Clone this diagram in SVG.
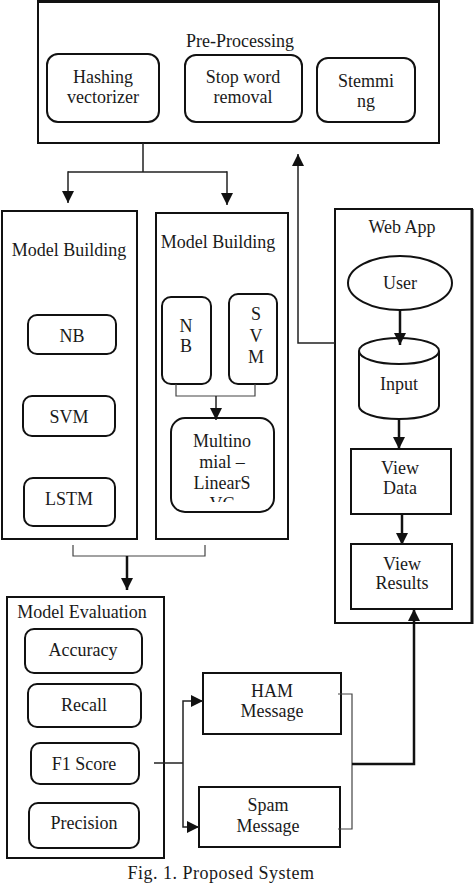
<svg xmlns="http://www.w3.org/2000/svg" width="474" height="884" viewBox="0 0 474 884">
<style>
  .box{fill:#fff;stroke:#111;stroke-width:2}
  .rbox{fill:#fff;stroke:#111;stroke-width:2}
  .t{font-family:'Liberation Serif','Times New Roman','DejaVu Serif',serif;font-size:18px;fill:#1a1a1a;text-anchor:middle}
  .c{fill:none;stroke:#222;stroke-width:1.5}
  .ct{fill:none;stroke:#444;stroke-width:1.2}
  .ck{fill:none;stroke:#111;stroke-width:2.5}
</style>
<defs>
  <marker id="ah" viewBox="0 0 10 10" refX="10" refY="5" markerWidth="12" markerHeight="12" markerUnits="userSpaceOnUse" orient="auto">
    <path d="M0,0 L10,5 L0,10 z" fill="#111"/>
  </marker>
  <clipPath id="mclip"><rect x="172" y="419" width="100" height="83"/></clipPath>
</defs>

<g id="preprocessing">
  <rect class="box" x="38" y="1" width="401" height="142"/>
  <line x1="38" y1="1.5" x2="439" y2="1.5" stroke="#111" stroke-width="3"/>
  <text class="t" x="240" y="47">Pre-Processing</text>
</g>
<g id="hashing">
  <rect class="rbox" x="47" y="54" width="112" height="68" rx="11"/>
  <text class="t" x="103" y="83">Hashing</text>
  <text class="t" x="103" y="103">vectorizer</text>
</g>
<g id="stopword">
  <rect class="rbox" x="185" y="55" width="117" height="67" rx="11"/>
  <text class="t" x="243" y="83">Stop word</text>
  <text class="t" x="243" y="103">removal</text>
</g>
<g id="stemming">
  <rect class="rbox" x="317" y="58" width="98" height="64" rx="11"/>
  <text class="t" x="366" y="87">Stemmi</text>
  <text class="t" x="366" y="107">ng</text>
</g>

<g id="model-building-1">
  <rect class="box" x="2" y="211" width="135" height="328"/>
  <text class="t" x="69" y="256">Model Building</text>
</g>
<g id="mb1-nb">
  <rect class="rbox" x="28" y="315" width="88" height="39" rx="9"/>
  <text class="t" x="72" y="342">NB</text>
</g>
<g id="mb1-svm">
  <rect class="rbox" x="23" y="396" width="92" height="40" rx="9"/>
  <text class="t" x="69" y="423">SVM</text>
</g>
<g id="mb1-lstm">
  <rect class="rbox" x="24" y="478" width="91" height="48" rx="9"/>
  <text class="t" x="69" y="505">LSTM</text>
</g>

<g id="model-building-2">
  <rect class="box" x="156" y="213" width="132" height="326"/>
  <text class="t" x="218" y="248">Model Building</text>
</g>
<g id="mb2-nb">
  <rect class="rbox" x="162" y="297" width="49" height="87" rx="9"/>
  <text class="t" x="186" y="332">N</text>
  <text class="t" x="186" y="352">B</text>
</g>
<g id="mb2-svm">
  <rect class="rbox" x="229" y="294" width="48" height="90" rx="9"/>
  <text class="t" x="256" y="320">S</text>
  <text class="t" x="256" y="342">V</text>
  <text class="t" x="256" y="363">M</text>
</g>
<g id="multinomial">
  <rect class="rbox" x="171" y="418" width="103" height="94" rx="14"/>
  <g clip-path="url(#mclip)">
    <text class="t" x="222" y="447">Multino</text>
    <text class="t" x="222" y="468">mial –</text>
    <text class="t" x="222" y="489">LinearS</text>
    <text class="t" x="222" y="510">VC</text>
  </g>
</g>

<g id="web-app">
  <rect class="box" x="335" y="209" width="137" height="414" stroke-width="2.5"/>
  <line x1="472" y1="209" x2="472" y2="624" stroke="#111" stroke-width="3"/>
  <text class="t" x="402" y="233">Web App</text>
</g>
<g id="user">
  <ellipse cx="400" cy="283" rx="52" ry="27" fill="#fff" stroke="#111" stroke-width="2"/>
  <text class="t" x="400" y="289">User</text>
</g>
<g id="input">
  <path d="M359,351 V406 A40,13 0 0 0 439,406 V351" fill="#fff" stroke="#111" stroke-width="2"/>
  <ellipse cx="399" cy="351" rx="40" ry="13" fill="#fff" stroke="#111" stroke-width="2"/>
  <text class="t" x="399" y="390">Input</text>
</g>
<g id="view-data">
  <rect class="box" x="351" y="449" width="100" height="65"/>
  <text class="t" x="400" y="474">View</text>
  <text class="t" x="400" y="494">Data</text>
</g>
<g id="view-results">
  <rect class="box" x="351" y="544" width="101" height="65"/>
  <text class="t" x="402" y="570">View</text>
  <text class="t" x="402" y="589">Results</text>
</g>

<g id="model-evaluation">
  <rect class="box" x="7" y="597" width="157" height="261"/>
  <text class="t" x="82" y="618">Model Evaluation</text>
</g>
<g id="accuracy">
  <rect class="rbox" x="25" y="629" width="117" height="44" rx="9"/>
  <text class="t" x="83" y="656">Accuracy</text>
</g>
<g id="recall">
  <rect class="rbox" x="28" y="684" width="113" height="43" rx="9"/>
  <text class="t" x="84" y="711">Recall</text>
</g>
<g id="f1score">
  <rect class="rbox" x="31" y="743" width="108" height="41" rx="9"/>
  <text class="t" x="84" y="770">F1 Score</text>
</g>
<g id="precision">
  <rect class="rbox" x="29" y="803" width="110" height="45" rx="9"/>
  <text class="t" x="84" y="829">Precision</text>
</g>

<g id="ham">
  <rect class="box" x="203" y="673" width="138" height="61"/>
  <text class="t" x="272" y="697">HAM</text>
  <text class="t" x="272" y="717">Message</text>
</g>
<g id="spam">
  <rect class="box" x="199" y="787" width="141" height="60"/>
  <text class="t" x="268" y="811">Spam</text>
  <text class="t" x="268" y="832">Message</text>
</g>

<g id="connectors">
  <path class="c" d="M143,143 V172 M68,172 H227"/>
  <path class="c" d="M68,171.3 V203" marker-end="url(#ah)"/>
  <path class="c" d="M227,171.3 V205" marker-end="url(#ah)"/>
  <path class="c" d="M335,343 H298 V154" marker-end="url(#ah)"/>
  <path class="ct" d="M176,384 V396 H255 V384"/>
  <path class="c" d="M216,396 V420" marker-end="url(#ah)"/>
  <path class="ct" d="M73,545 V556 H205 V545"/>
  <path class="ck" d="M127,556 V590" marker-end="url(#ah)"/>
  <path class="c" d="M154,763 H183"/>
  <path class="c" d="M183,763 V701 H203" marker-end="url(#ah)"/>
  <path class="c" d="M183,763 V827 H199" marker-end="url(#ah)"/>
  <path class="ct" d="M338,694 H352 V829 H338"/>
  <path class="ck" d="M352,764 H414 V609" marker-end="url(#ah)"/>
  <path class="ck" d="M400,310 V345" marker-end="url(#ah)"/>
  <path class="ck" d="M399,419 V449" marker-end="url(#ah)"/>
  <path class="ck" d="M402,514 V545" marker-end="url(#ah)"/>
</g>

<text class="t" x="221" y="879" font-size="17" letter-spacing="0.5">Fig. 1. Proposed System</text>
</svg>
